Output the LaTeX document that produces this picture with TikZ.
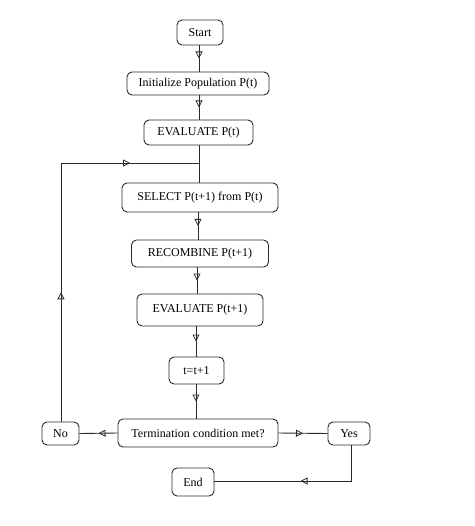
\documentclass[tikz,border=0pt]{standalone}
\usepackage{fontspec}
\setmainfont{Liberation Serif}
\usetikzlibrary{arrows.meta,decorations.markings}
\definecolor{ln}{HTML}{2a2a2a}
\tikzset{
  box/.style={draw=ln, line width=0.9pt, rounded corners=5pt, inner sep=0pt, font=\fontsize{12}{14}\selectfont, text=black},
  conn/.style={draw=ln, line width=0.9pt},
  midarrow/.style={conn, postaction={decorate}, decoration={markings, mark=at position #1 with {\arrow[ln, line width=0.8pt]{Triangle[open, length=7pt, width=7pt]}}}},
  midarrow/.default=0.5
}
\begin{document}
\begin{tikzpicture}[x=1pt, y=-1pt]
\useasboundingbox (0,0) rectangle (474,526);
\node[box, minimum width=46pt, minimum height=25pt] (start) at (200,32.5) {Start};
\node[box, minimum width=142pt, minimum height=23pt] (init) at (198,83.5) {Initialize Population P(t)};
\node[box, minimum width=109pt, minimum height=25pt] (eval) at (198.5,132.5) {EVALUATE P(t)};
\node[box, minimum width=156pt, minimum height=29pt] (select) at (200,197.5) {SELECT P(t+1) from P(t)};
\node[box, minimum width=137pt, minimum height=27pt] (recomb) at (200,253.5) {RECOMBINE P(t+1)};
\node[box, minimum width=126pt, minimum height=32pt] (evalb) at (200,310) {EVALUATE P(t+1)};
\node[box, minimum width=55pt, minimum height=27pt] (inc) at (196.5,370.5) {t=t+1};
\node[box, minimum width=160pt, minimum height=28pt] (term) at (198,433) {Termination condition met?};
\node[box, minimum width=37pt, minimum height=23pt] (no) at (60.5,433.5) {No};
\node[box, minimum width=42pt, minimum height=23pt] (yes) at (349,433.5) {Yes};
\node[box, minimum width=42pt, minimum height=28pt] (end) at (193,482) {End};
\coordinate (junc) at (199,163);
\coordinate (corner) at (61,163);
\coordinate (yescorner) at (351,481);
\draw[midarrow] (start.south -| 199,0) -- (init.north -| 199,0);
\draw[midarrow] (init.south -| 199,0) -- (eval.north -| 199,0);
\draw[conn] (eval.south -| 199,0) -- (select.north -| 199,0);
\draw[midarrow] (select.south -| 198,0) -- (recomb.north -| 198,0);
\draw[midarrow] (recomb.south -| 197,0) -- (evalb.north -| 197,0);
\draw[midarrow] (evalb.south -| 196,0) -- (inc.north -| 196,0);
\draw[midarrow] (inc.south -| 196,0) -- (term.north -| 196,0);
\draw[midarrow] (term.west) -- (no.east);
\draw[midarrow] (term.east) -- (yes.west);
\draw[midarrow] (no.north -| corner) -- (corner);
\draw[midarrow] (corner) -- (junc);
\draw[midarrow] (yes.south -| yescorner) -- (yescorner) -- (end.east |- yescorner);
\end{tikzpicture}
\end{document}
